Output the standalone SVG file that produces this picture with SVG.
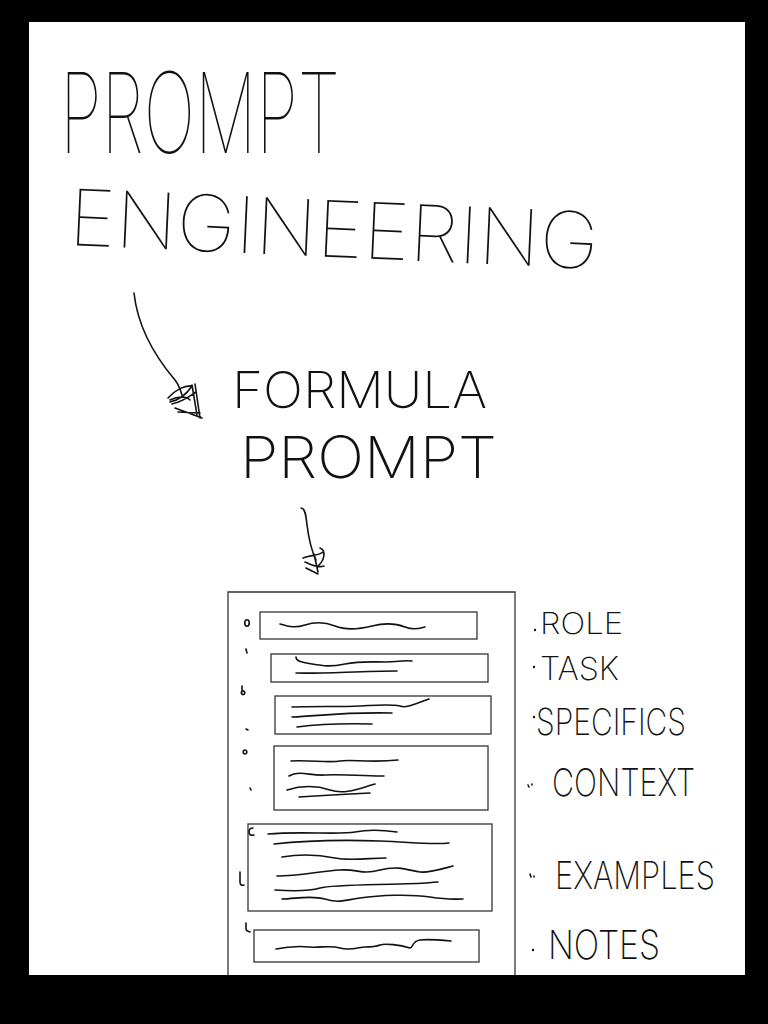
<svg xmlns="http://www.w3.org/2000/svg" width="768" height="1024" viewBox="0 0 768 1024">
<style>
.pen{fill:none;stroke:#111;stroke-width:1.6;stroke-linecap:round;stroke-linejoin:round}
.box{fill:none;stroke:#333;stroke-width:1.3}
.hand{font-family:Inter,Roboto,"Open Sans",sans-serif;font-weight:200;fill:#111}
.thin{font-weight:100}
</style>
<rect x="0" y="0" width="768" height="1024" fill="#000"/>
<rect x="29" y="22" width="716" height="953" fill="#fff"/>

<g id="title">
<text class="hand thin" x="60" y="153" font-size="112" textLength="280" lengthAdjust="spacingAndGlyphs">PROMPT</text>
<text class="hand thin" x="68" y="245" font-size="78" textLength="530" lengthAdjust="spacingAndGlyphs" transform="rotate(2.6 68 245)">ENGINEERING</text>
</g>

<g id="formula-prompt">
<text class="hand" x="232" y="408" font-size="50" textLength="255" lengthAdjust="spacingAndGlyphs">FORMULA</text>
<text class="hand" x="240" y="478" font-size="58" textLength="257" lengthAdjust="spacingAndGlyphs">PROMPT</text>
</g>

<g id="connectors">
<path class="pen" d="M134,293 C138,330 158,360 175,380 C178,384 180,388 182,395"/>
<path class="pen" d="M168,398 C175,390 185,385 192,386 C188,392 180,400 170,402 M172,404 C182,402 190,396 196,392 M175,408 L202,418 M192,385 L197,415 M195,384 L200,418 M178,412 L200,413 M170,400 C178,396 186,396 190,400"/>
<path class="pen" d="M301,508 C305,508 306,515 307,525 C309,540 312,552 316,560"/>
<path class="pen" d="M303,558 C310,555 318,556 323,552 M305,562 C312,565 318,568 324,566 M306,568 L318,574 M320,548 C326,550 325,560 318,566 M314,554 L318,572"/>
</g>

<g id="prompt-template">
<path class="box" d="M228,975 V592 H515 V975"/>
</g>

<g id="role">
<rect class="box" x="260" y="612" width="217" height="27"/>
<path class="pen" d="M280,624 C290,627 296,628 305,625 S325,622 335,626 S360,629 372,626 S395,623 405,627 S420,628 425,627"/>
<ellipse class="pen" cx="247" cy="623" rx="2.2" ry="3.2"/>
<circle cx="535" cy="630" r="1.2" fill="#111"/>
<text class="hand" x="540" y="634" font-size="30" textLength="83" lengthAdjust="spacingAndGlyphs">ROLE</text>
</g>

<g id="task">
<rect class="box" x="271" y="654" width="217" height="28"/>
<path class="pen" d="M296,657 C296,661 300,662 312,664 S330,667 345,664 S370,662 385,662 S400,660 412,661"/>
<path class="pen" d="M296,673 C320,674 360,671 397,671"/>
<path class="pen" d="M246,649 L247,653"/>
<circle cx="534" cy="667" r="1.2" fill="#111"/>
<text class="hand" x="540" y="680" font-size="32" textLength="79" lengthAdjust="spacingAndGlyphs">TASK</text>
</g>

<g id="specifics">
<rect class="box" x="275" y="696" width="216" height="38"/>
<path class="pen" d="M292,707 C310,706 340,707 360,706 S390,704 400,706 C405,708 410,706 429,699"/>
<path class="pen" d="M292,717 C320,716 340,712 392,713"/>
<path class="pen" d="M297,727 C320,724 340,723 372,724"/>
<path class="pen" d="M242,686 V692 M243,691 a1.8,1.8 0 1 0 0.1,0"/>
<path class="pen" d="M246,729 L248,730"/>
<circle cx="534" cy="717" r="1.2" fill="#111"/>
<text class="hand" x="536" y="735" font-size="37" textLength="150" lengthAdjust="spacingAndGlyphs">SPECIFICS</text>
</g>

<g id="context">
<rect class="box" x="274" y="746" width="214" height="64"/>
<path class="pen" d="M291,761 C310,760 330,763 340,761 S370,763 398,760"/>
<path class="pen" d="M289,776 C300,770 310,776 325,775 S370,776 384,776"/>
<path class="pen" d="M287,790 C300,786 315,785 330,790 S360,788 375,784"/>
<path class="pen" d="M299,797 C330,795 350,794 370,793"/>
<ellipse class="pen" cx="245" cy="752" rx="1.8" ry="2"/>
<path class="pen" d="M250,788 L251,790"/>
<path class="pen" d="M528,785 L529,787 M532,784 L532,785"/>
<text class="hand" x="552" y="796" font-size="38" textLength="143" lengthAdjust="spacingAndGlyphs">CONTEXT</text>
</g>

<g id="examples">
<rect class="box" x="248" y="824" width="244" height="87"/>
<path class="pen" d="M268,834 C300,831 340,835 355,832 S390,831 397,832"/>
<path class="pen" d="M274,844 C310,840 350,840 380,841 S430,845 449,843"/>
<path class="pen" d="M282,857 C300,854 320,855 335,858 S370,858 386,858"/>
<path class="pen" d="M277,876 C300,876 320,871 340,870 S360,875 380,870 S410,871 420,872 S445,868 453,866"/>
<path class="pen" d="M275,890 C290,891 310,891 320,888 S360,885 400,884 S430,882 438,882"/>
<path class="pen" d="M282,899 C295,899 310,895 325,899 S340,901 360,898 S410,894 430,897 S450,899 463,899"/>
<path class="pen" d="M253,828 q-4,0 -4,4 q0,4 5,3"/>
<path class="pen" d="M240,872 v10 q0,4 4,3"/>
<path class="pen" d="M530,874 L531,877 M534,876 L534,877"/>
<text class="hand" x="555" y="889" font-size="38" textLength="160" lengthAdjust="spacingAndGlyphs">EXAMPLES</text>
</g>

<g id="notes">
<rect class="box" x="254" y="930" width="225" height="32"/>
<path class="pen" d="M276,949 C290,946 300,946 310,947 S330,945 340,948 S360,947 365,947 S375,947 380,945 S400,945 410,948 C413,948 412,941 420,940 S440,940 451,941"/>
<path class="pen" d="M246,923 v6 q0,2 4,3"/>
<circle cx="533" cy="950" r="1.2" fill="#111"/>
<text class="hand" x="548" y="959" font-size="40" textLength="112" lengthAdjust="spacingAndGlyphs">NOTES</text>
</g>
</svg>
